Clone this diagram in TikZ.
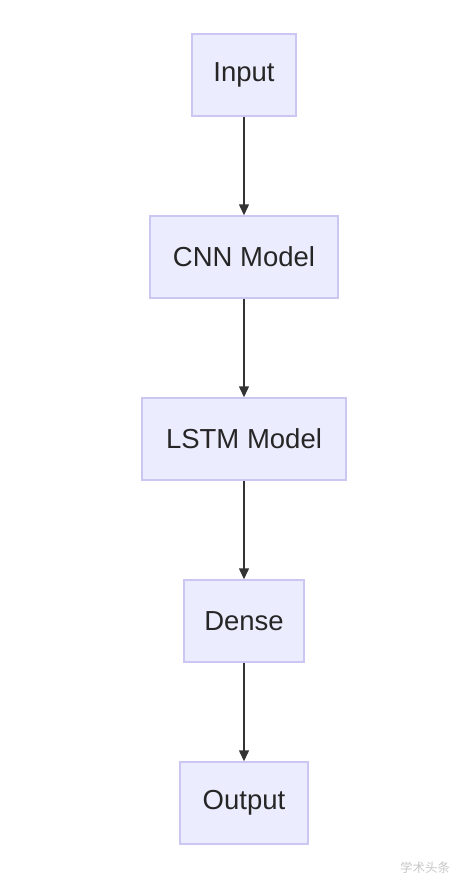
\documentclass[tikz,border=0pt]{standalone}
\usepackage{fontspec}
\setmainfont{Liberation Sans}
\newfontfamily\cjk{Noto Sans CJK SC}
\usetikzlibrary{arrows.meta}
\definecolor{boxfill}{HTML}{ECECFF}
\definecolor{boxline}{HTML}{CBC6F2}
\definecolor{arrowc}{HTML}{333333}
\tikzset{
  flowbox/.style={draw=boxline, fill=boxfill, line width=1.5pt, inner sep=0pt,
    font=\fontsize{27.5}{32}\selectfont, text=black!85},
  flowarrow/.style={draw=arrowc, line width=1.5pt, -{Triangle[length=11pt,width=10pt]}}
}
\begin{document}
\begin{tikzpicture}[x=1pt,y=-1pt]
\useasboundingbox (0,0) rectangle (460,892);
\node[flowbox, minimum width=104pt, minimum height=82pt] (input) at (244,75) {Input};
\node[flowbox, minimum width=188pt, minimum height=82pt] (cnn) at (244,257) {CNN Model};
\node[flowbox, minimum width=204pt, minimum height=82pt] (lstm) at (244,439) {LSTM Model};
\node[flowbox, minimum width=120pt, minimum height=82pt] (dense) at (244,621) {Dense};
\node[flowbox, minimum width=128pt, minimum height=82pt] (output) at (244,803) {Output};
\draw[flowarrow] (input) -- (cnn);
\draw[flowarrow] (cnn) -- (lstm);
\draw[flowarrow] (lstm) -- (dense);
\draw[flowarrow] (dense) -- (output);
\node[text=black!22, font=\cjk\fontsize{12.5}{14}\selectfont, anchor=west, inner sep=0pt] (wm) at (400,868) {学术头条};
\end{tikzpicture}
\end{document}
